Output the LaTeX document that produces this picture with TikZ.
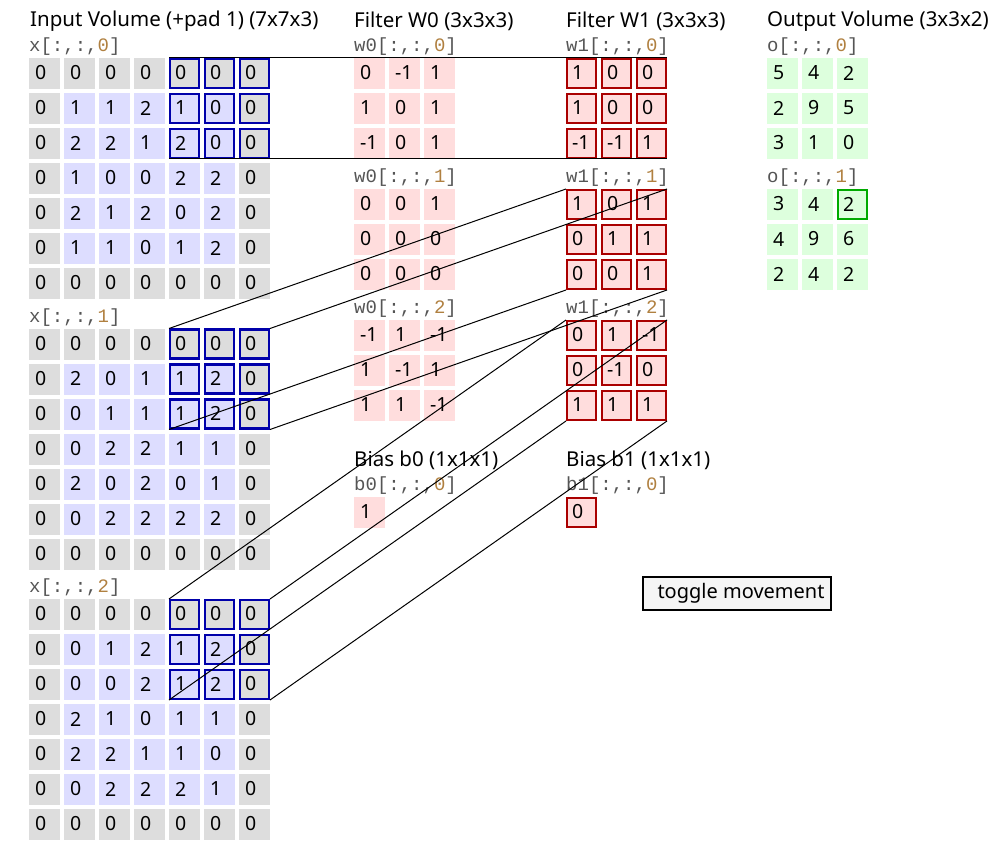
\documentclass[tikz,border=0pt]{standalone}
\usepackage{fontspec}
\setmainfont{Noto Sans}
\newfontfamily\monof{Liberation Mono}
\begin{document}
\begin{tikzpicture}[x=1pt,y=-1pt]
\definecolor{padc}{HTML}{DDDDDD}
\definecolor{inc}{HTML}{DDDDFF}
\definecolor{wc}{HTML}{FFDDDD}
\definecolor{oc}{HTML}{DDFFDD}
\definecolor{hb}{HTML}{0000AA}
\definecolor{hr}{HTML}{AA0000}
\definecolor{hg}{HTML}{00AA00}
\definecolor{lblc}{HTML}{555555}
\definecolor{idxc}{HTML}{B08040}
\tikzset{
  val/.style={anchor=west,inner sep=0,font=\fontsize{19.5}{22}\selectfont},
  ttl/.style={anchor=west,inner sep=0,font=\fontsize{20.5}{23}\selectfont},
  lbl/.style={anchor=west,inner sep=0,font=\monof\fontsize{19}{21}\selectfont,text=lblc},
  hl/.style={line width=2.2pt},
  conn/.style={line width=1pt,black},
}
\useasboundingbox (0,0) rectangle (1005,856);
% titles
\node[ttl] (t-in) at (30,21) {Input Volume (+pad 1) (7x7x3)};
\node[ttl] (t-w0) at (354,21) {Filter W0 (3x3x3)};
\node[ttl] (t-w1) at (566,21) {Filter W1 (3x3x3)};
\node[ttl] (t-o) at (767,21) {Output Volume (3x3x2)};
\node[ttl] (t-b0) at (354,460) {Bias b0 (1x1x1)};
\node[ttl] (t-b1) at (566,460) {Bias b1 (1x1x1)};
% input
\foreach \s/\data in {0/{{0,0,0,0,0,0,0},{0,1,1,2,1,0,0},{0,2,2,1,2,0,0},{0,1,0,0,2,2,0},{0,2,1,2,0,2,0},{0,1,1,0,1,2,0},{0,0,0,0,0,0,0}},
  1/{{0,0,0,0,0,0,0},{0,2,0,1,1,2,0},{0,0,1,1,1,2,0},{0,0,2,2,1,1,0},{0,2,0,2,0,1,0},{0,0,2,2,2,2,0},{0,0,0,0,0,0,0}},
  2/{{0,0,0,0,0,0,0},{0,0,1,2,1,2,0},{0,0,0,2,1,2,0},{0,2,1,0,1,1,0},{0,2,2,1,1,0,0},{0,0,2,2,2,1,0},{0,0,0,0,0,0,0}}}{
  \pgfmathsetmacro\top{58+270.5*\s}
  \node[lbl] (lx-\s) at (29,\top-11) {x[:,:,\textcolor{idxc}{\s}]};
  \foreach \r in {0,...,6}{\foreach \c in {0,...,6}{
    \fill[padc] (29+35*\c,\top+35*\r) rectangle ++(31,31);}}
  \foreach \r in {1,...,5}{\foreach \c in {1,...,5}{
    \fill[inc] (29+35*\c,\top+35*\r) rectangle ++(31,31);}}
  \foreach \row [count=\r from 0] in \data {
    \foreach \v [count=\c from 0] in \row {
      \node[val] (x-\s-\r-\c) at (29+35*\c+6,\top+35*\r+15) {\v};}}
  \foreach \r in {0,1,2}{\foreach \c in {4,5,6}{
    \draw[hl,hb] (29+35*\c+1,\top+35*\r+1) rectangle ++(29,29);}}
  \coordinate (iTL-\s) at (169,\top);
  \coordinate (iTR-\s) at (270,\top);
  \coordinate (iBL-\s) at (169,\top+101);
  \coordinate (iBR-\s) at (270,\top+101);
}
% filters
\foreach \f/\fx/\data in {
  0/354/{{{0,-1,1},{1,0,1},{-1,0,1}},{{0,0,1},{0,0,0},{0,0,0}},{{-1,1,-1},{1,-1,1},{1,1,-1}}},
  1/566/{{{1,0,0},{1,0,0},{-1,-1,1}},{{1,0,1},{0,1,1},{0,0,1}},{{0,1,-1},{0,-1,0},{1,1,1}}}}{
  \foreach \sl [count=\s from 0] in \data {
    \pgfmathsetmacro\top{58+131*\s}
    \node[lbl] (lw\f-\s) at (\fx,\top-11) {w\f[:,:,\textcolor{idxc}{\s}]};
    \foreach \row [count=\r from 0] in \sl {
      \foreach \v [count=\c from 0] in \row {
        \fill[wc] (\fx+35*\c,\top+35*\r) rectangle ++(31,31);
        \ifnum\f=1 \draw[hl,hr] (\fx+35*\c+1,\top+35*\r+1) rectangle ++(29,29);\fi
        \node[val] (w\f-\s-\r-\c) at (\fx+35*\c+6,\top+35*\r+15) {\v};}}
    \coordinate (f\f TL-\s) at (\fx,\top);
    \coordinate (f\f TR-\s) at (\fx+101,\top);
    \coordinate (f\f BL-\s) at (\fx,\top+101);
    \coordinate (f\f BR-\s) at (\fx+101,\top+101);
  }
}
% biases
\node[lbl] (lb0) at (354,486) {b0[:,:,\textcolor{idxc}{0}]};
\fill[wc] (354,497) rectangle ++(31,31);
\node[val] (b0v) at (360,512) {1};
\node[lbl] (lb1) at (566,486) {b1[:,:,\textcolor{idxc}{0}]};
\fill[wc] (566,497) rectangle ++(31,31);
\draw[hl,hr] (567,498) rectangle ++(29,29);
\node[val] (b1v) at (572,512) {0};
% output
\foreach \data [count=\s from 0] in {{{5,4,2},{2,9,5},{3,1,0}},{{3,4,2},{4,9,6},{2,4,2}}}{
  \pgfmathsetmacro\top{58+131*\s}
  \node[lbl] (lo-\s) at (767,\top-11) {o[:,:,\textcolor{idxc}{\s}]};
  \foreach \row [count=\r from 0] in \data {
    \foreach \v [count=\c from 0] in \row {
      \fill[oc] (767+35*\c,\top+35*\r) rectangle ++(31,31);
      \node[val] (o-\s-\r-\c) at (767+35*\c+6,\top+35*\r+15) {\v};}}
}
\draw[hl,hg] (838,190) rectangle ++(29,29);
% connectors
\foreach \s in {0,1,2}{
  \draw[conn] (iTL-\s) -- (f1TL-\s);
  \draw[conn] (iTR-\s) -- (f1TR-\s);
  \draw[conn] (iBL-\s) -- (f1BL-\s);
  \draw[conn] (iBR-\s) -- (f1BR-\s);
}
% button
\node[draw=black,line width=2pt,fill=black!4,minimum width=188,minimum height=33,inner sep=0,anchor=north west,font=\fontsize{20}{22}\selectfont] (btn) at (642,576) {\hspace*{8pt}toggle movement};
\end{tikzpicture}
\end{document}
